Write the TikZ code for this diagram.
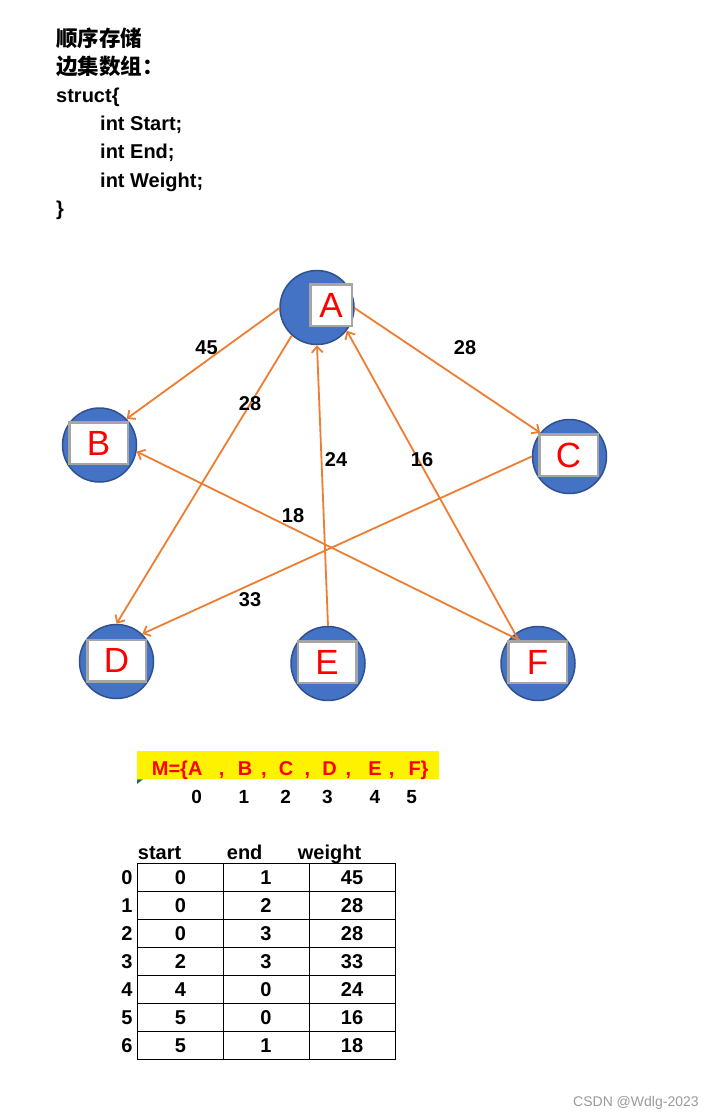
\documentclass[tikz,border=0pt]{standalone}
\usepackage{fontspec}
\setmainfont{Liberation Sans}
\newfontfamily\cjk{Noto Sans CJK SC}
\usetikzlibrary{arrows.meta}
\definecolor{nodeblue}{HTML}{4472C4}
\definecolor{nodeedge}{HTML}{2F528F}
\definecolor{edgeor}{HTML}{ED7D31}
\definecolor{boxgray}{HTML}{A5A5A5}
\definecolor{wmgray}{HTML}{9A9A9A}
\definecolor{trigreen}{HTML}{217346}
\newcommand\myfs[1]{\fontsize{#1}{#1}\selectfont}
\begin{document}
\begin{tikzpicture}[x=1pt,y=-1pt,
  vert/.style={circle,fill=nodeblue,draw=nodeedge,line width=1.5pt,minimum size=74pt,inner sep=0pt},
  lbox/.style={rectangle,fill=white,draw=boxgray,line width=2.5pt,minimum width=58.5pt,minimum height=41.5pt,inner sep=0pt,text=red,font=\myfs{35}},
  sqbox/.style={lbox,minimum width=41.5pt},
  conn/.style={draw=edgeor,line width=1.8pt,-{Straight Barb[length=6pt,width=11pt]}},
  txt/.style={inner sep=0pt,anchor=base west,font=\bfseries\myfs{20}},
  cjktxt/.style={inner sep=0pt,anchor=base west,font=\cjk\bfseries\myfs{21.5}},
  lab/.style={inner sep=0pt,font=\bfseries\myfs{20}},
  mtxt/.style={inner sep=0pt,anchor=base,text=red,font=\bfseries\myfs{20}},
  idx/.style={inner sep=0pt,anchor=base,font=\bfseries\myfs{19}},
  cell/.style={inner sep=0pt,font=\bfseries\myfs{20}}
]
\useasboundingbox (0,0) rectangle (717,1118);
\fill[white] (0,0) rectangle (717,1118);

% ---- top text ----
\node[cjktxt] (t1) at (56,47) {顺序存储};
\node[cjktxt] (t2) at (56,75) {边集数组：};
\node[txt] (t3) at (56,102.7) {struct\{};
\node[txt] (t4) at (100,131) {int Start;};
\node[txt] (t5) at (100,159) {int End;};
\node[txt] (t6) at (100,187) {int Weight;};
\node[txt] (t7) at (56,215) {\}};

% ---- graph vertices ----
\node[vert] (A) at (317,307.5) {};
\node[vert] (B) at (99.5,445) {};
\node[vert] (C) at (569.5,456.5) {};
\node[vert] (D) at (116.5,661.5) {};
\node[vert] (E) at (328,663.5) {};
\node[vert] (F) at (538,663.5) {};

\coordinate (F1) at (520.5,643.5);
\coordinate (F2) at (525,643);

% ---- connectors ----
\draw[conn] (A.181) -- (B.44.5);
\draw[conn] (A.359) -- (C.141);
\draw[conn] (A.228) -- (D.90);
\draw[conn] (E.90) -- (A.270);
\draw[conn] (F1) -- (A.322);
\draw[conn] (C.180) -- (D.47);
\draw[conn] (F2) -- (B.350);

% ---- label boxes ----
\node[sqbox] (Ab) at (331,305) {A};
\node[lbox] (Bb) at (98.5,443) {B};
\node[lbox] (Cb) at (568.5,455) {C};
\node[lbox] (Db) at (116.5,660.5) {D};
\node[lbox] (Eb) at (327,662) {E};
\node[lbox] (Fb) at (537.5,662) {F};

% ---- edge weights ----
\node[lab] (w1) at (206.5,347.5) {45};
\node[lab] (w2) at (465,347.5) {28};
\node[lab] (w3) at (250,404) {28};
\node[lab] (w4) at (336,459.5) {24};
\node[lab] (w5) at (422,459.5) {16};
\node[lab] (w6) at (293,515.5) {18};
\node[lab] (w7) at (250,600) {33};

% ---- vertex array ----
\fill[yellow] (137,751) rectangle (439,779);
\fill[trigreen] (137,779.3) -- (143,779.3) -- (137,784) -- cycle;
\node[inner sep=0pt,anchor=base west,text=red,font=\bfseries\myfs{20}] (m0) at (151.7,775) {M=\{A};
\node[mtxt] (c1) at (221.7,775) {,};
\node[mtxt] (m1) at (245,775) {B};
\node[mtxt] (c2) at (264,775) {,};
\node[mtxt] (m2) at (286,775) {C};
\node[mtxt] (c3) at (307.3,775) {,};
\node[mtxt] (m3) at (329.7,775) {D};
\node[mtxt] (c4) at (348.3,775) {,};
\node[mtxt] (m4) at (375,775) {E};
\node[mtxt] (c5) at (391.7,775) {,};
\node[inner sep=0pt,anchor=base west,text=red,font=\bfseries\myfs{20}] (m5) at (408.3,775) {F\}};
\node[idx] (i0) at (196.7,803.3) {0};
\node[idx] (i1) at (244,803.3) {1};
\node[idx] (i2) at (285.7,803.3) {2};
\node[idx] (i3) at (327.3,803.3) {3};
\node[idx] (i4) at (375,803.3) {4};
\node[idx] (i5) at (411.7,803.3) {5};

% ---- edge table ----
\node[txt] (h1) at (137.7,859.5) {start};
\node[txt] (h2) at (226.7,859.5) {end};
\node[txt] (h3) at (297.7,859.5) {weight};
\draw[line width=1pt] (137.7,863.5) rectangle (395,1059.5);
\draw[line width=1pt] (223,863.5) -- (223,1059.5);
\draw[line width=1pt] (309,863.5) -- (309,1059.5);
\foreach \k in {1,...,6} {
  \draw[line width=1pt] (137.7,863.5+28*\k) -- (395,863.5+28*\k);
}
\foreach \r/\s/\e/\w in {0/0/1/45,1/0/2/28,2/0/3/28,3/2/3/33,4/4/0/24,5/5/0/16,6/5/1/18} {
  \node[cell] (r\r) at (127,877.5+28*\r) {\r};
  \node[cell] (s\r) at (180.4,877.5+28*\r) {\s};
  \node[cell] (e\r) at (266,877.5+28*\r) {\e};
  \node[cell] (g\r) at (352,877.5+28*\r) {\w};
}

% ---- watermark ----
\node[inner sep=0pt,anchor=base west,text=wmgray,font=\myfs{14}] (wm) at (573,1106.5) {CSDN @Wdlg-2023};
\end{tikzpicture}
\end{document}
